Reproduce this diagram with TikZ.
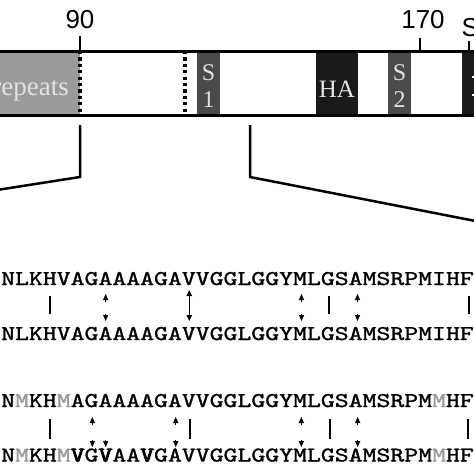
\documentclass[tikz,border=0pt]{standalone}
\usepackage{fontspec}
\usepackage{graphicx}
\usetikzlibrary{arrows.meta}
\newfontfamily\serifL{Liberation Serif}
\newfontfamily\sansL{Liberation Sans}
\newfontfamily\seqfont{lmmono10-regular.otf}[FakeBold=1.2]
\newfontfamily\seqbold{lmmono10-regular.otf}[FakeBold=3.5]
\definecolor{repgray}{HTML}{9A9A9A}
\definecolor{sgray}{HTML}{4A4A4A}
\definecolor{hablack}{HTML}{1A1A1A}
\definecolor{mgray}{HTML}{9A9A9A}
\definecolor{boxtext}{HTML}{E2E2E2}
\newcommand\gm{\textcolor{mgray}{M}}
\newcommand\bv{{\seqbold V}}
\newcommand\seqrow[1]{\scalebox{1.2608}[1]{\fontsize{21}{21}\selectfont\seqfont #1}}
\begin{document}
\begin{tikzpicture}[x=1pt,y=-1pt,
  barline/.style={line width=3pt},
  tickline/.style={line width=2pt},
  conn/.style={line width=2.5pt, line join=miter},
  dotline/.style={line width=3.2pt, dash pattern=on 3.2pt off 3.2pt},
  lab/.style={font=\sansL\fontsize{26}{26}\selectfont, inner sep=0pt},
  boxlab/.style={font=\serifL\fontsize{24}{24}\selectfont, text=boxtext, inner sep=0pt},
  mk/.style={line width=1.5pt},
  seq/.style={anchor=base west, inner sep=0pt},
  uphead/.pic={\fill (0,0)--(-2.7,6)--(2.7,6)--cycle; \draw[line width=1.1pt] (0,5)--(0,7.5);},
  downhead/.pic={\fill (0,0)--(-2.7,-6)--(2.7,-6)--cycle; \draw[line width=1.1pt] (0,-5)--(0,-7.5);}
]
\useasboundingbox (0,0) rectangle (474,474);
\begin{scope}
\clip (0,0) rectangle (474,474);
% domain boxes
\fill[repgray] (-5,51) rectangle (80,115);
\fill[sgray] (197,51) rectangle (220,115);
\fill[hablack] (316,51) rectangle (358,115);
\fill[sgray] (388,51) rectangle (411,115);
\fill[hablack] (461.5,51) rectangle (480,115);
\draw[white, line width=1.5pt] (471.5,77)--(477,77) (471.5,95)--(477,95);
\draw[dotline] (80,51)--(80,115);
\draw[dotline] (185,51)--(185,115);
\draw[barline] (-5,51)--(480,51) (-5,115)--(480,115);
% box labels
\node[font=\serifL\fontsize{27}{27}\selectfont, text=boxtext, anchor=base east, inner sep=0pt] (rep) at (69,95) {repeats};
\node[boxlab, anchor=base] (s1a) at (208.5,80) {S};
\node[boxlab, anchor=base] (s1b) at (208.5,107) {1};
\node[boxlab, font=\serifL\fontsize{25}{25}\selectfont, anchor=base] (ha) at (337,97) {HA};
\node[boxlab, anchor=base] (s2a) at (399.5,80) {S};
\node[boxlab, anchor=base] (s2b) at (399.5,107) {2};
% position labels and ticks
\node[lab, anchor=base] (n90) at (80,28) {90};
\node[lab, anchor=base] (n170) at (423,28) {170};
\node[lab, anchor=base west] (nS) at (461.5,36) {S};
\draw[tickline] (80,36)--(80,51);
\draw[tickline] (420,38)--(420,51);
\draw[tickline] (469,41)--(469,51);
% zoom connectors
\coordinate (la) at (80,125);
\coordinate (lb) at (80,177);
\coordinate (lc) at (-5,190.3);
\draw[conn] (la)--(lb)--(lc);
\coordinate (ra) at (250,125);
\coordinate (rb) at (250,177);
\coordinate (rc) at (480,221.9);
\draw[conn] (ra)--(rb)--(rc);
% sequences
\node[seq] (q1) at (1,285) {\seqrow{NLKHVAGAAAAGAVVGGLGGYMLGSAMSRPMIHF}};
\node[seq] (q2) at (1,340) {\seqrow{NLKHVAGAAAAGAVVGGLGGYMLGSAMSRPMIHF}};
\node[seq] (q3) at (1,407) {\seqrow{N\gm KH\gm AGAAAAGAVVGGLGGYMLGSAMSRPM\gm HF}};
\node[seq] (q4) at (1,461.5) {\seqrow{N\gm KH\gm\bv G\bv AA\bv GAVVGGLGGYMLGSAMSRPM\gm HF}};
% markers rows 1-2
\foreach \x in {50,329,469} \draw[mk] (\x,296)--(\x,314);
\foreach \x in {105.7,301.5,357.5} {
  \pic at (\x,294) {uphead};
  \pic at (\x,321) {downhead};
}
\draw[line width=1.2pt, {Triangle[length=6pt,width=5.4pt]}-{Triangle[length=6pt,width=5.4pt]}] (189.3,290)--(189.3,321);
% markers rows 3-4
\foreach \x in {50,190,330,468} \draw[mk] (\x,419)--(\x,438.5);
\foreach \x in {92.3,175.7,301.3,357.7} \pic at (\x,417) {uphead};
\foreach \x in {92.3,105.7,175.7,301.3,357.7} \pic at (\x,447) {downhead};
\end{scope}
\end{tikzpicture}
\end{document}
